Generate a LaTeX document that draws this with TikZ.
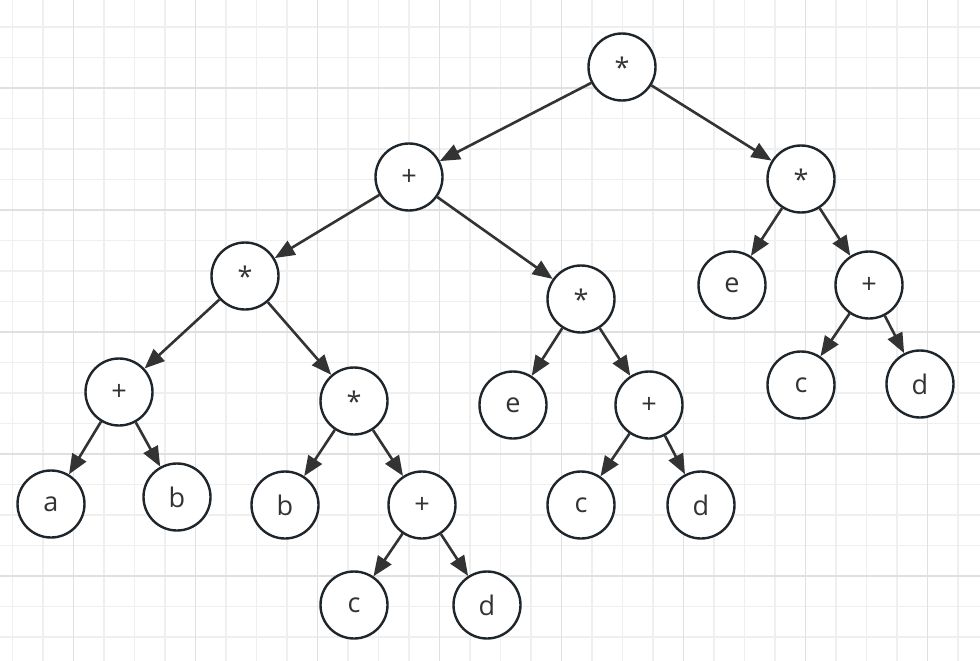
\documentclass[tikz,border=0pt]{standalone}
\usepackage{fontspec}
\setmainfont{Open Sans}
\usetikzlibrary{arrows.meta}
\definecolor{gridminor}{HTML}{EFEFEF}
\definecolor{gridmajor}{HTML}{E0E0E0}
\definecolor{ink}{HTML}{1E252B}
\definecolor{arrowc}{HTML}{333333}
\begin{document}
\begin{tikzpicture}[x=1pt,y=-1pt,
  tn/.style={circle,draw=ink,line width=2.4pt,fill=white,minimum size=67pt,inner sep=0pt,
    font=\fontsize{27}{30}\selectfont,text=arrowc},
  arr/.style={draw=arrowc,line width=2.6pt,-{Triangle[length=20pt,width=16pt]}}]
\useasboundingbox (0,0) rectangle (980,661);
\fill[white] (0,0) rectangle (980,661);
% grid
\foreach \i in {-1,...,32} {
  \pgfmathsetmacro\gx{12.5+30.5*\i}
  \draw[gridminor,line width=1.3pt] (\gx,0) -- (\gx,661);
}
\foreach \i in {-1,...,22} {
  \pgfmathsetmacro\gy{27+30.5*\i}
  \draw[gridminor,line width=1.3pt] (0,\gy) -- (980,\gy);
}
\foreach \i in {0,...,7} {
  \pgfmathsetmacro\gx{73.5+122*\i}
  \draw[gridmajor,line width=1.4pt] (\gx,0) -- (\gx,661);
}
\foreach \i in {0,...,4} {
  \pgfmathsetmacro\gy{88+122*\i}
  \draw[gridmajor,line width=1.4pt] (0,\gy) -- (980,\gy);
}
% nodes
\node[tn] (r)   at (622,67)  {*};
\node[tn] (p1)  at (409,177) {+};
\node[tn] (m1)  at (801,179) {*};
\node[tn] (m2)  at (245,276) {*};
\node[tn] (m3)  at (581,299) {*};
\node[tn] (e1)  at (732,285) {e};
\node[tn] (p2)  at (869,285) {+};
\node[tn] (c1)  at (801,385) {c};
\node[tn] (d1)  at (920,384) {d};
\node[tn] (p3)  at (119,392) {+};
\node[tn] (m4)  at (354,401) {*};
\node[tn] (e2)  at (513,405) {e};
\node[tn] (p4)  at (649,405) {+};
\node[tn] (a1)  at (51,504)  {a};
\node[tn] (b1)  at (177,497) {b};
\node[tn] (b2)  at (285,505) {b};
\node[tn] (p5)  at (422,505) {+};
\node[tn] (c2)  at (581,505) {c};
\node[tn] (d2)  at (701,505) {d};
\node[tn] (c3)  at (354,605) {c};
\node[tn] (d3)  at (487,605) {d};
% edges
\draw[arr] (r) -- (p1);
\draw[arr] (r) -- (m1);
\draw[arr] (p1) -- (m2);
\draw[arr] (p1) -- (m3);
\draw[arr] (m1) -- (e1);
\draw[arr] (m1) -- (p2);
\draw[arr] (p2) -- (c1);
\draw[arr] (p2) -- (d1);
\draw[arr] (m2) -- (p3);
\draw[arr] (m2) -- (m4);
\draw[arr] (m3) -- (e2);
\draw[arr] (m3) -- (p4);
\draw[arr] (p3) -- (a1);
\draw[arr] (p3) -- (b1);
\draw[arr] (m4) -- (b2);
\draw[arr] (m4) -- (p5);
\draw[arr] (p4) -- (c2);
\draw[arr] (p4) -- (d2);
\draw[arr] (p5) -- (c3);
\draw[arr] (p5) -- (d3);
\end{tikzpicture}
\end{document}
